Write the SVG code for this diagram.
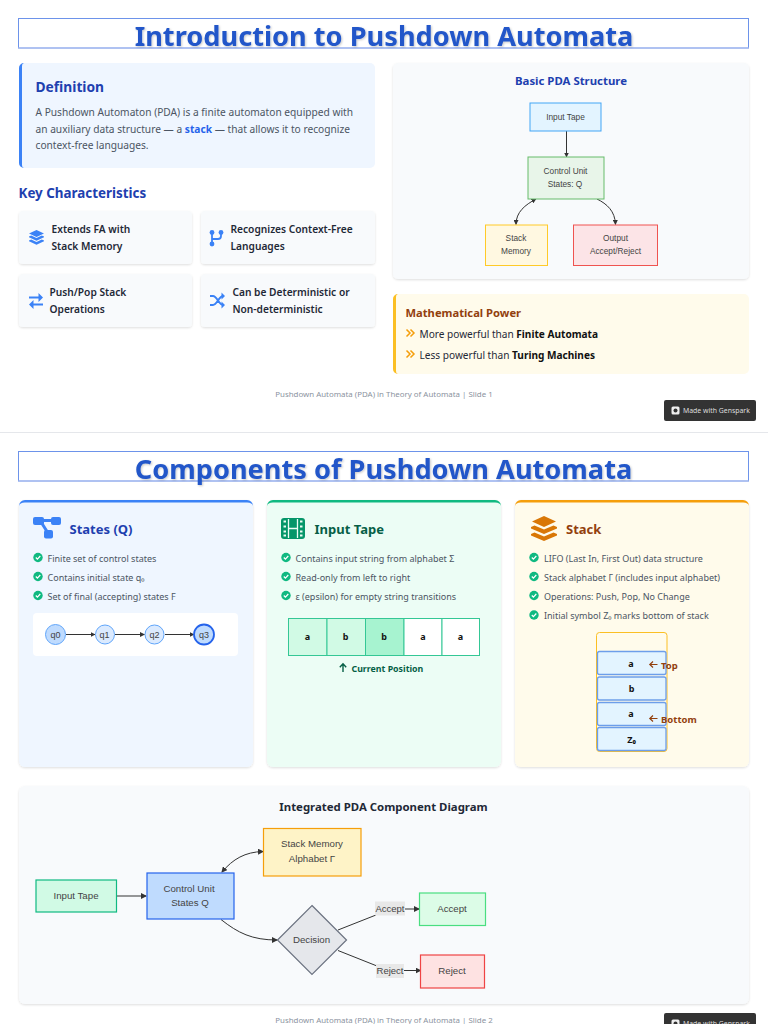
<svg xmlns="http://www.w3.org/2000/svg" width="768" height="1024" viewBox="0 0 768 1024">
<style>
text{font-family:"Noto Sans","Open Sans","Liberation Sans",sans-serif}
.title{font-size:27.200px;font-weight:700;fill:#2257c9;text-anchor:middle}
.tbar{fill:#fff;stroke:#6d93ea;stroke-width:1}
.h{font-weight:700;fill:#1e40af}
.body{font-size:10.200px;fill:#4b5563}
.feat{font-size:10.200px;font-weight:600;fill:#1f2937}
.card{fill:#f8fafc}
.li{font-size:9px;fill:#4b5563}
.foot{font-size:7.900px;fill:#8b93a0;text-anchor:middle}
.m{font-family:"Liberation Sans",Arial,sans-serif;fill:#444;text-anchor:middle}
.c{stroke:#333;stroke-width:1;fill:none}
.cell{font-size:9px;font-weight:700;fill:#111;text-anchor:middle}
.ok{fill:#10b981}
.icon{fill:#3b82f6}
.sh{filter:url(#shadow)}
.badge{font-size:6.900px;fill:#ddd}
.lab{font-size:9.500px;font-weight:700;fill:#92400e}
</style>
<defs>
<filter id="shadow" x="-5%" y="-5%" width="110%" height="112%"><feDropShadow dx="0" dy="1" stdDeviation="1.200" flood-color="#000" flood-opacity=".13"/></filter>
<filter id="ts" x="-5%" y="-20%" width="110%" height="150%"><feDropShadow dx="1" dy="1" stdDeviation="1" flood-color="#000" flood-opacity=".22"/></filter>
<marker id="a" markerWidth="6" markerHeight="6" refX="5" refY="3" orient="auto-start-reverse" markerUnits="userSpaceOnUse"><path d="M0 0L6 3L0 6z" fill="#333"/></marker>
<marker id="b" markerWidth="5" markerHeight="5" refX="4.500" refY="2.500" orient="auto-start-reverse" markerUnits="userSpaceOnUse"><path d="M0 0L5 2.500L0 5z" fill="#333"/></marker>
<g id="tick"><circle r="4.700" class="ok"/><path d="M-2.200 0L-.6 1.700L2.300 -1.500" fill="none" stroke="#fff" stroke-width="1.200"/></g>
</defs>
<rect width="768" height="1024" fill="#fff"/>
<path d="M0 432.500H768" stroke="#e5e7eb" stroke-width="1"/>

<g id="slide1-title">
<rect class="tbar" x="18.500" y="18.500" width="730" height="29.500"/>
<path d="M18 48H749" stroke="#a9bbee" stroke-width="1"/>
<text class="title" x="384" y="46" filter="url(#ts)">Introduction to Pushdown Automata</text>
</g>
<g id="definition">
<rect x="19" y="63" width="356" height="105" rx="5" fill="#eff6ff"/>
<path d="M24 63a5 5 0 0 0-5 5v95a5 5 0 0 0 5 5a3 3 0 0 1-2-3v-99a3 3 0 0 1 2-3z" fill="#3b82f6"/>
<text class="h" x="35.500" y="92" font-size="13.800">Definition</text>
<text class="body" x="35.500" y="115.500">A Pushdown Automaton (PDA) is a finite automaton equipped with</text>
<text class="body" x="35.500" y="133">an auxiliary data structure — a <tspan font-weight="700" fill="#2563eb">stack</tspan> — that allows it to recognize</text>
<text class="body" x="35.500" y="149">context-free languages.</text>
</g>
<text id="key-characteristics" class="h" x="18.500" y="197.500" font-size="13.400">Key Characteristics</text>
<g id="feature1"><rect class="card sh" x="19" y="211" width="173" height="53" rx="4"/>
<path class="icon" d="M36.500 230l7.500 3.500-7.500 3.500-7.500-3.500zM29 236.500l2.200-1 5.300 2.500 5.300-2.500 2.200 1v.8l-7.500 3.500-7.500-3.500zM29 240.500l2.200-1 5.300 2.500 5.300-2.500 2.200 1v.8l-7.500 3.500-7.500-3.500z"/>
<text class="feat" x="51.500" y="233">Extends FA with</text><text class="feat" x="51.500" y="250">Stack Memory</text></g>
<g id="feature2"><rect class="card sh" x="201" y="211" width="174" height="53" rx="4"/>
<g fill="none" stroke="#3b82f6" stroke-width="1.800"><path d="M212 233V243M221 233V236a3 3 0 0 1-3 3H212"/></g>
<circle class="icon" cx="212" cy="232.500" r="2.400"/><circle class="icon" cx="212" cy="244" r="2.400"/><circle class="icon" cx="221" cy="232.500" r="2.400"/>
<text class="feat" x="230.500" y="233">Recognizes Context-Free</text><text class="feat" x="230.500" y="250">Languages</text></g>
<g id="feature3"><rect class="card sh" x="19" y="274" width="173" height="53" rx="4"/>
<path d="M29 297.500H40M33 304.500H43" fill="none" stroke="#3b82f6" stroke-width="2"/>
<path class="icon" d="M38.500 293L43 297.500L38.500 302zM33.500 300L29 304.500L33.500 309z"/>
<text class="feat" x="49.500" y="296">Push/Pop Stack</text><text class="feat" x="49.500" y="313">Operations</text></g>
<g id="feature4"><rect class="card sh" x="201" y="274" width="174" height="53" rx="4"/>
<path d="M210 296h3c4 0 6 9 10 9M210 305h3c4 0 6-9 10-9" fill="none" stroke="#3b82f6" stroke-width="1.900"/>
<path class="icon" d="M221.500 292.500L225 296L221.500 299.500zM221.500 301.500L225 305L221.500 308.500z"/>
<text class="feat" x="232.500" y="296">Can be Deterministic or</text><text class="feat" x="232.500" y="313">Non-deterministic</text></g>

<g id="pda-structure"><rect class="card sh" x="393" y="63" width="356" height="216" rx="5"/>
<text class="h" x="571" y="85" font-size="11.400" text-anchor="middle">Basic PDA Structure</text></g>
<g id="s1-connectors">
<path class="c" d="M566.500 131V157" marker-end="url(#b)"/>
<path class="c" stroke="#555" d="M536 199C525 205 516 212 516 224.500" marker-start="url(#b)" marker-end="url(#b)"/>
<path class="c" d="M597 199C607 204 615 211 615.500 224.500" marker-end="url(#b)"/>
</g>
<g id="s1-input"><rect x="530" y="103" width="71" height="28" fill="#e3f4ff" stroke="#42a5f5"/><text class="m" x="565.500" y="119.500" font-size="8.300">Input Tape</text></g>
<g id="s1-control"><rect x="528" y="157" width="76" height="42" fill="#e8f5e9" stroke="#66bb6a"/><text class="m" x="565.500" y="174" font-size="8.300">Control Unit</text><text class="m" x="565" y="186.500" font-size="8.300">States: Q</text></g>
<g id="s1-stack"><rect x="485.500" y="225" width="62" height="40.500" fill="#fff8e1" stroke="#ffca28"/><text class="m" x="516" y="241" font-size="8.300">Stack</text><text class="m" x="516" y="254" font-size="8.300">Memory</text></g>
<g id="s1-output"><rect x="573.500" y="225" width="84" height="40.500" fill="#fce4e7" stroke="#ef5350"/><text class="m" x="615.500" y="241" font-size="8.300">Output</text><text class="m" x="615.500" y="254" font-size="8.300">Accept/Reject</text></g>

<g id="math-power">
<rect x="393" y="294" width="356" height="80" rx="5" fill="#fffbeb"/>
<path d="M398 294a5 5 0 0 0-5 5v70a5 5 0 0 0 5 5a3 3 0 0 1-2-3v-74a3 3 0 0 1 2-3z" fill="#fbbf24"/>
<text x="405.500" y="317" font-size="11.200" font-weight="700" fill="#92400e">Mathematical Power</text>
<path d="M406.500 329.500l3.500 3.500-3.500 3.500M410.500 329.500l3.500 3.500-3.500 3.500M406.500 350.500l3.500 3.500-3.500 3.500M410.500 350.500l3.500 3.500-3.500 3.500" fill="none" stroke="#f59e0b" stroke-width="1.500"/>
<text x="419.500" y="338" font-size="10.100" fill="#1f2937">More powerful than <tspan font-weight="700" fill="#111">Finite Automata</tspan></text>
<text x="419.500" y="359" font-size="10.100" fill="#1f2937">Less powerful than <tspan font-weight="700" fill="#111">Turing Machines</tspan></text>
</g>
<text class="foot" x="384" y="397">Pushdown Automata (PDA) in Theory of Automata | Slide 1</text>
<g id="badge1"><rect x="664" y="400" width="92" height="21" rx="2" fill="#333"/><rect x="671.500" y="406.500" width="8" height="8" rx="1.500" fill="#eee"/><circle cx="675.500" cy="410.500" r="2" fill="#333"/><text class="badge" x="683" y="413">Made with Genspark</text></g>

<g id="slide2-title">
<rect class="tbar" x="18.500" y="451.500" width="730" height="29.500"/>
<path d="M18 481H749" stroke="#a9bbee" stroke-width="1"/>
<text class="title" x="383.500" y="479" filter="url(#ts)">Components of Pushdown Automata</text>
</g>
<g id="states">
<rect class="sh" x="19" y="500" width="234" height="267" rx="6" fill="#eff6ff"/>
<path d="M19 506a6 6 0 0 1 6-6h222a6 6 0 0 1 6 6a6 4 0 0 0-6-3.500H25a6 4 0 0 0-6 3.500z" fill="#3b82f6"/>
<g class="icon"><rect x="33" y="517" width="11" height="8" rx="2"/><rect x="51" y="517" width="10" height="8" rx="2"/><rect x="44" y="530" width="9" height="8.500" rx="2"/></g>
<path d="M41 522L48 533M44 520.500H51" stroke="#3b82f6" stroke-width="3" fill="none"/>
<text class="h" x="69.500" y="534" font-size="13">States (Q)</text>
<use href="#tick" x="38" y="557.500"/><text class="li" x="47.500" y="561.500">Finite set of control states</text>
<use href="#tick" x="38" y="576.500"/><text class="li" x="47.500" y="580.500">Contains initial state q₀</text>
<use href="#tick" x="38" y="595.500"/><text class="li" x="47.500" y="599.500">Set of final (accepting) states F</text>
<rect x="33" y="613" width="205" height="43" rx="4" fill="#fff"/>
</g>
<g id="state-connectors">
<path class="c" d="M66 634.500H95" marker-end="url(#b)"/><path class="c" d="M115 634.500H144.500" marker-end="url(#b)"/><path class="c" d="M165 634.500H194" marker-end="url(#b)"/>
</g>
<g id="q0"><circle cx="55.500" cy="634.500" r="10" fill="#bfdbfe" stroke="#60a5fa"/><text class="m" x="55.500" y="637.500" font-size="9">q0</text></g>
<g id="q1"><circle cx="105" cy="634.500" r="9.500" fill="#dbeafe" stroke="#60a5fa"/><text class="m" x="104.500" y="637.500" font-size="9">q1</text></g>
<g id="q2"><circle cx="154.500" cy="634.500" r="9.500" fill="#dbeafe" stroke="#60a5fa"/><text class="m" x="154.500" y="637.500" font-size="9">q2</text></g>
<g id="q3"><circle cx="204" cy="634.500" r="10" fill="#bfdbfe" stroke="#2563eb" stroke-width="1.800"/><text class="m" x="204" y="637.500" font-size="9">q3</text></g>

<g id="input-tape">
<rect class="sh" x="267" y="500" width="234" height="267" rx="6" fill="#ecfdf5"/>
<path d="M267 506a6 6 0 0 1 6-6h222a6 6 0 0 1 6 6a6 4 0 0 0-6-3.500H273a6 4 0 0 0-6 3.500z" fill="#10b981"/>
<rect x="281" y="518" width="24" height="21" rx="3" fill="#059669"/>
<path d="M288.500 519v19M297.500 519v19M288.500 528.500h9" stroke="#ecfdf5" stroke-width="1.300"/>
<path d="M283.500 521.500h2.500M283.500 526.500h2.500M283.500 531.500h2.500M283.500 535.500h2.500M300 521.500h2.500M300 526.500h2.500M300 531.500h2.500M300 535.500h2.500" stroke="#ecfdf5" stroke-width="1.800"/>
<text x="314.500" y="534" font-size="13" font-weight="700" fill="#065f46">Input Tape</text>
<use href="#tick" x="286" y="557.500"/><text class="li" x="295.500" y="561.500">Contains input string from alphabet Σ</text>
<use href="#tick" x="286" y="576.500"/><text class="li" x="295.500" y="580.500">Read-only from left to right</text>
<use href="#tick" x="286" y="595.500"/><text class="li" x="295.500" y="599.500">ε (epsilon) for empty string transitions</text>
<g stroke="#34c795" stroke-width="1">
<rect x="288.500" y="618.500" width="38.500" height="37" fill="#d1fae5"/><rect x="327" y="618.500" width="38.500" height="37" fill="#d1fae5"/><rect x="365.500" y="618.500" width="38.500" height="37" fill="#a7f3d0"/><rect x="404" y="618.500" width="38" height="37" fill="#fff"/><rect x="442" y="618.500" width="37.500" height="37" fill="#fff"/>
</g>
<text class="cell" x="307.500" y="640">a</text><text class="cell" x="345.500" y="640">b</text><text class="cell" x="384" y="640">b</text><text class="cell" x="423" y="640">a</text><text class="cell" x="460.500" y="640">a</text>
<path d="M343 672V664M339.800 667.200l3.200-3.500 3.200 3.500" fill="none" stroke="#065f46" stroke-width="1.400"/>
<text x="351.500" y="671.500" font-size="8.800" font-weight="700" fill="#065f46">Current Position</text>
</g>

<g id="stack">
<rect class="sh" x="515" y="500" width="234" height="267" rx="6" fill="#fffbeb"/>
<path d="M515 506a6 6 0 0 1 6-6h222a6 6 0 0 1 6 6a6 4 0 0 0-6-3.500H521a6 4 0 0 0-6 3.500z" fill="#f59e0b"/>
<path d="M544 516l12 5.500-12 5.500-12-5.500z" fill="#d97706"/>
<path d="M531 527l3.500-1.500 9.500 4 9.500-4 3.500 1.500v1.500l-13 5.500-13-5.500zM531 534l3.500-1.500 9.500 4 9.500-4 3.500 1.500v1.500l-13 5.500-13-5.500z" fill="#d97706"/>
<text x="566" y="534" font-size="13" font-weight="700" fill="#92400e">Stack</text>
<use href="#tick" x="534" y="557.500"/><text class="li" x="544" y="561.500">LIFO (Last In, First Out) data structure</text>
<use href="#tick" x="534" y="576.500"/><text class="li" x="544" y="580.500">Stack alphabet Γ (includes input alphabet)</text>
<use href="#tick" x="534" y="595.500"/><text class="li" x="544" y="599.500">Operations: Push, Pop, No Change</text>
<use href="#tick" x="534" y="615"/><text class="li" x="544" y="619">Initial symbol Z₀ marks bottom of stack</text>
<rect x="596.500" y="632.500" width="70.500" height="119" rx="3" fill="#fffbeb" stroke="#fbbf24"/>
<g fill="#e3f4ff" stroke="#6d9eea" stroke-width="1.300">
<rect x="597.500" y="651.500" width="68.500" height="23" rx="2"/><rect x="597.500" y="677" width="68.500" height="23" rx="2"/><rect x="597.500" y="702.500" width="68.500" height="23" rx="2"/><rect x="597.500" y="727.500" width="68.500" height="23" rx="2"/>
</g>
<text class="cell" x="631" y="667">a</text><text class="cell" x="631.500" y="692">b</text><text class="cell" x="631" y="717">a</text><text class="cell" x="631.500" y="743">Z₀</text>
<path d="M657.500 664.500H650M653 661.500L649.800 664.500L653 667.500M657.500 718.500H650M653 715.500L649.800 718.500L653 721.500" fill="none" stroke="#92400e" stroke-width="1.200"/>
<text class="lab" x="661" y="668.500">Top</text>
<text class="lab" x="661" y="722.500">Bottom</text>
</g>

<g id="integrated"><rect class="card sh" x="19" y="786" width="730" height="218" rx="6"/>
<text x="383.500" y="811" font-size="11.400" font-weight="700" fill="#1f2937" text-anchor="middle">Integrated PDA Component Diagram</text></g>
<g id="integrated-connectors">
<path class="c" d="M117 896H146" stroke-width="1.200" marker-end="url(#a)"/>
<path class="c" d="M222 872C233 859 245 852 263 851.500" marker-start="url(#a)" marker-end="url(#a)"/>
<path class="c" d="M221 919.500C238 933 252 940 277 940" marker-end="url(#a)"/>
<path class="c" d="M338 930L376 915"/>
<path class="c" d="M405 909H419" marker-end="url(#a)"/>
<path class="c" d="M338 950.500L377 966"/>
<path class="c" d="M404 970.500H420.500" marker-end="url(#a)"/>
</g>
<g id="label-accept"><rect x="375" y="901.500" width="30" height="14" fill="#e8e8e8"/><text class="m" x="390" y="912" font-size="9.500">Accept</text></g>
<g id="label-reject"><rect x="376" y="964" width="28" height="14" fill="#e8e8e8"/><text class="m" x="390" y="974" font-size="9.500">Reject</text></g>
<g id="i-input"><rect x="36" y="880" width="80.500" height="32" fill="#d1fae5" stroke="#10b981" stroke-width="1.200"/><text class="m" x="76" y="899" font-size="9.700">Input Tape</text></g>
<g id="i-control"><rect x="147" y="873" width="87" height="46" fill="#bfdbfe" stroke="#2563eb" stroke-width="1.200"/><text class="m" x="189" y="891.500" font-size="9.700">Control Unit</text><text class="m" x="190" y="905.500" font-size="9.700">States Q</text></g>
<g id="i-stack"><rect x="263.500" y="828.500" width="97.500" height="47.500" fill="#fef3c7" stroke="#f59e0b" stroke-width="1.200"/><text class="m" x="312" y="847" font-size="9.700">Stack Memory</text><text class="m" x="312" y="862" font-size="9.700">Alphabet Γ</text></g>
<g id="i-decision"><path d="M312 905.500L346.500 940L312 974.500L277.500 940z" fill="#e5e7eb" stroke="#6b7280" stroke-width="1.200"/><text class="m" x="311.500" y="943" font-size="9.700">Decision</text></g>
<g id="i-accept"><rect x="419.500" y="893" width="66" height="32.500" fill="#dcfce7" stroke="#4ade80" stroke-width="1.200"/><text class="m" x="452" y="912" font-size="9.700">Accept</text></g>
<g id="i-reject"><rect x="420.500" y="955" width="64" height="33" fill="#fee2e2" stroke="#ef4444" stroke-width="1.200"/><text class="m" x="452" y="973.500" font-size="9.700">Reject</text></g>
<text class="foot" x="384" y="1023">Pushdown Automata (PDA) in Theory of Automata | Slide 2</text>
<g id="badge2"><rect x="664" y="1013" width="92" height="21" rx="2" fill="#333"/><rect x="671.500" y="1019.500" width="8" height="8" rx="1.500" fill="#eee"/><circle cx="675.500" cy="1023.500" r="2" fill="#333"/><text class="badge" x="683" y="1026">Made with Genspark</text></g>
</svg>
